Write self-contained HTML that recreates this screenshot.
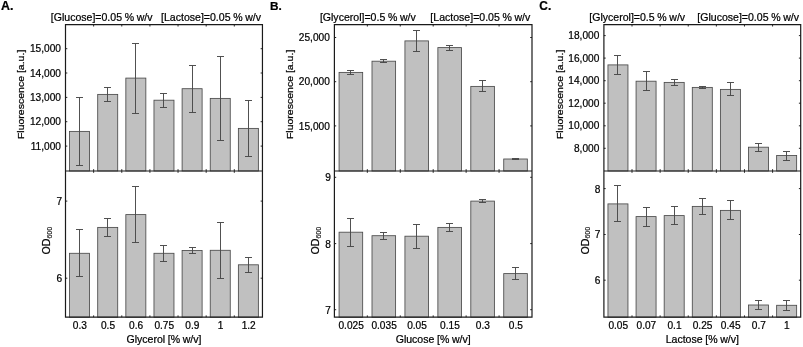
<!DOCTYPE html>
<html><head><meta charset="utf-8"><title>Figure</title>
<style>
html,body{margin:0;padding:0;background:#fff}
svg{display:block}
text{font-family:"Liberation Sans",Arial,Helvetica,sans-serif;fill:#000;stroke:#000;stroke-width:0.22px}
</style></head><body>
<svg width="803" height="347" viewBox="0 0 803 347">
<rect width="803" height="347" fill="#fff"/>
<g>
<text x="1.0" y="9.8" font-size="12.4" font-weight="bold" stroke="none">A.</text>
<text x="50.8" y="20.5" font-size="10.55" word-spacing="-0.3">[Glucose]=0.05 % w/v</text>
<text x="261.0" y="20.5" font-size="10.55" word-spacing="-0.3" text-anchor="end">[Lactose]=0.05 % w/v</text>
<rect x="69.57" y="131.4" width="20" height="39.6" fill="#c0c0c0" stroke="#4a4a4a" stroke-width="0.85"/>
<path d="M79.5 97.5V165.5M76 97.5h7M76 165.5h7" stroke="#484848" stroke-width="0.95" fill="none"/>
<rect x="97.7" y="94.4" width="20" height="76.6" fill="#c0c0c0" stroke="#4a4a4a" stroke-width="0.85"/>
<path d="M107.5 87.5V101.5M104 87.5h7M104 101.5h7" stroke="#484848" stroke-width="0.95" fill="none"/>
<rect x="125.84" y="78.1" width="20" height="92.9" fill="#c0c0c0" stroke="#4a4a4a" stroke-width="0.85"/>
<path d="M135.5 43.5V113.5M132 43.5h7M132 113.5h7" stroke="#484848" stroke-width="0.95" fill="none"/>
<rect x="153.97" y="100.2" width="20" height="70.8" fill="#c0c0c0" stroke="#4a4a4a" stroke-width="0.85"/>
<path d="M163.5 93.5V107.5M160 93.5h7M160 107.5h7" stroke="#484848" stroke-width="0.95" fill="none"/>
<rect x="182.11" y="88.7" width="20" height="82.3" fill="#c0c0c0" stroke="#4a4a4a" stroke-width="0.85"/>
<path d="M192.5 65.5V112.5M189 65.5h7M189 112.5h7" stroke="#484848" stroke-width="0.95" fill="none"/>
<rect x="210.25" y="98.4" width="20" height="72.6" fill="#c0c0c0" stroke="#4a4a4a" stroke-width="0.85"/>
<path d="M220.5 56.5V140.5M217 56.5h7M217 140.5h7" stroke="#484848" stroke-width="0.95" fill="none"/>
<rect x="238.38" y="128.4" width="20" height="42.6" fill="#c0c0c0" stroke="#4a4a4a" stroke-width="0.85"/>
<path d="M248.5 100.5V156.5M245 100.5h7M245 156.5h7" stroke="#484848" stroke-width="0.95" fill="none"/>
<rect x="69.57" y="253.3" width="20" height="63.9" fill="#c0c0c0" stroke="#4a4a4a" stroke-width="0.85"/>
<path d="M79.5 229.5V276.5M76 229.5h7M76 276.5h7" stroke="#484848" stroke-width="0.95" fill="none"/>
<rect x="97.7" y="227.4" width="20" height="89.8" fill="#c0c0c0" stroke="#4a4a4a" stroke-width="0.85"/>
<path d="M107.5 218.5V236.5M104 218.5h7M104 236.5h7" stroke="#484848" stroke-width="0.95" fill="none"/>
<rect x="125.84" y="214.6" width="20" height="102.6" fill="#c0c0c0" stroke="#4a4a4a" stroke-width="0.85"/>
<path d="M135.5 186.5V242.5M132 186.5h7M132 242.5h7" stroke="#484848" stroke-width="0.95" fill="none"/>
<rect x="153.97" y="253.3" width="20" height="63.9" fill="#c0c0c0" stroke="#4a4a4a" stroke-width="0.85"/>
<path d="M163.5 245.5V261.5M160 245.5h7M160 261.5h7" stroke="#484848" stroke-width="0.95" fill="none"/>
<rect x="182.11" y="250.5" width="20" height="66.7" fill="#c0c0c0" stroke="#4a4a4a" stroke-width="0.85"/>
<path d="M192.5 247.5V253.5M189 247.5h7M189 253.5h7" stroke="#484848" stroke-width="0.95" fill="none"/>
<rect x="210.25" y="250.3" width="20" height="66.9" fill="#c0c0c0" stroke="#4a4a4a" stroke-width="0.85"/>
<path d="M220.5 222.5V278.5M217 222.5h7M217 278.5h7" stroke="#484848" stroke-width="0.95" fill="none"/>
<rect x="238.38" y="264.8" width="20" height="52.4" fill="#c0c0c0" stroke="#4a4a4a" stroke-width="0.85"/>
<path d="M248.5 257.5V272.5M245 257.5h7M245 272.5h7" stroke="#484848" stroke-width="0.95" fill="none"/>
<path d="M65.5 24.7H262.45V317.2H65.5ZM65.5 171.0H262.45" stroke="#1a1a1a" stroke-width="1.2" fill="none"/>
<path d="M93.64 24.7v1.8M93.64 169.2v3.6M93.64 317.2v-1.8M121.77 24.7v1.8M121.77 169.2v3.6M121.77 317.2v-1.8M149.91 24.7v1.8M149.91 169.2v3.6M149.91 317.2v-1.8M178.04 24.7v1.8M178.04 169.2v3.6M178.04 317.2v-1.8M206.18 24.7v1.8M206.18 169.2v3.6M206.18 317.2v-1.8M234.31 24.7v1.8M234.31 169.2v3.6M234.31 317.2v-1.8M65.5 48.7h1.8M262.45 48.7h-1.8M65.5 73h1.8M262.45 73h-1.8M65.5 97.4h1.8M262.45 97.4h-1.8M65.5 121.7h1.8M262.45 121.7h-1.8M65.5 146.1h1.8M262.45 146.1h-1.8M65.5 201.1h1.8M262.45 201.1h-1.8M65.5 278.2h1.8M262.45 278.2h-1.8" stroke="#1a1a1a" stroke-width="0.95" fill="none"/>
<text x="60.9" y="52.3" font-size="10.15" text-anchor="end">15,000</text>
<text x="60.9" y="76.6" font-size="10.15" text-anchor="end">14,000</text>
<text x="60.9" y="101" font-size="10.15" text-anchor="end">13,000</text>
<text x="60.9" y="125.3" font-size="10.15" text-anchor="end">12,000</text>
<text x="60.9" y="149.7" font-size="10.15" text-anchor="end">11,000</text>
<text x="62.1" y="205" font-size="10.15" text-anchor="end">7</text>
<text x="62.1" y="282.1" font-size="10.15" text-anchor="end">6</text>
<text x="79.87" y="328.9" font-size="10.15" text-anchor="middle">0.3</text>
<text x="108" y="328.9" font-size="10.15" text-anchor="middle">0.5</text>
<text x="136.14" y="328.9" font-size="10.15" text-anchor="middle">0.6</text>
<text x="164.28" y="328.9" font-size="10.15" text-anchor="middle">0.75</text>
<text x="192.41" y="328.9" font-size="10.15" text-anchor="middle">0.9</text>
<text x="220.55" y="328.9" font-size="10.15" text-anchor="middle">1</text>
<text x="248.68" y="328.9" font-size="10.15" text-anchor="middle">1.2</text>
<text x="163.97" y="343.1" font-size="10.55" word-spacing="-0.3" text-anchor="middle">Glycerol [% w/v]</text>
<text transform="translate(23.8 139.1) rotate(-90) scale(1.085 1)" font-size="9.7">Fluorescence [a.u.]</text>
<text transform="translate(50.4 254.4) rotate(-90) scale(1.04 1)" font-size="10.2">OD<tspan font-size="6.7" dy="1.4" stroke-width="0.1">600</tspan></text>
</g>
<g>
<text x="269.9" y="9.8" font-size="11.8" font-weight="bold" stroke="none">B.</text>
<text x="319.9" y="20.5" font-size="10.55" word-spacing="-0.3">[Glycerol]=0.5 % w/v</text>
<text x="530.3" y="20.5" font-size="10.55" word-spacing="-0.3" text-anchor="end">[Lactose]=0.05 % w/v</text>
<rect x="339.07" y="72.4" width="23.6" height="98.6" fill="#c0c0c0" stroke="#4a4a4a" stroke-width="0.85"/>
<path d="M350.5 70.5V74.5M347 70.5h7M347 74.5h7" stroke="#484848" stroke-width="0.95" fill="none"/>
<rect x="372" y="61.2" width="23.6" height="109.8" fill="#c0c0c0" stroke="#4a4a4a" stroke-width="0.85"/>
<path d="M383.5 59.5V62.5M380 59.5h7M380 62.5h7" stroke="#484848" stroke-width="0.95" fill="none"/>
<rect x="404.93" y="40.9" width="23.6" height="130.1" fill="#c0c0c0" stroke="#4a4a4a" stroke-width="0.85"/>
<path d="M416.5 30.5V51.5M413 30.5h7M413 51.5h7" stroke="#484848" stroke-width="0.95" fill="none"/>
<rect x="437.87" y="47.6" width="23.6" height="123.4" fill="#c0c0c0" stroke="#4a4a4a" stroke-width="0.85"/>
<path d="M449.5 45.5V50.5M446 45.5h7M446 50.5h7" stroke="#484848" stroke-width="0.95" fill="none"/>
<rect x="470.8" y="86.4" width="23.6" height="84.6" fill="#c0c0c0" stroke="#4a4a4a" stroke-width="0.85"/>
<path d="M482.5 80.5V91.5M479 80.5h7M479 91.5h7" stroke="#484848" stroke-width="0.95" fill="none"/>
<rect x="503.73" y="159" width="23.6" height="12" fill="#c0c0c0" stroke="#4a4a4a" stroke-width="0.85"/>
<path d="M515.5 158.5V159.5M512 158.5h7M512 159.5h7" stroke="#484848" stroke-width="0.95" fill="none"/>
<rect x="339.07" y="232.2" width="23.6" height="85" fill="#c0c0c0" stroke="#4a4a4a" stroke-width="0.85"/>
<path d="M350.5 218.5V246.5M347 218.5h7M347 246.5h7" stroke="#484848" stroke-width="0.95" fill="none"/>
<rect x="372" y="235.7" width="23.6" height="81.5" fill="#c0c0c0" stroke="#4a4a4a" stroke-width="0.85"/>
<path d="M383.5 232.5V239.5M380 232.5h7M380 239.5h7" stroke="#484848" stroke-width="0.95" fill="none"/>
<rect x="404.93" y="236.2" width="23.6" height="81" fill="#c0c0c0" stroke="#4a4a4a" stroke-width="0.85"/>
<path d="M416.5 224.5V248.5M413 224.5h7M413 248.5h7" stroke="#484848" stroke-width="0.95" fill="none"/>
<rect x="437.87" y="227.4" width="23.6" height="89.8" fill="#c0c0c0" stroke="#4a4a4a" stroke-width="0.85"/>
<path d="M449.5 223.5V231.5M446 223.5h7M446 231.5h7" stroke="#484848" stroke-width="0.95" fill="none"/>
<rect x="470.8" y="201.1" width="23.6" height="116.1" fill="#c0c0c0" stroke="#4a4a4a" stroke-width="0.85"/>
<path d="M482.5 199.5V202.5M479 199.5h7M479 202.5h7" stroke="#484848" stroke-width="0.95" fill="none"/>
<rect x="503.73" y="273.6" width="23.6" height="43.6" fill="#c0c0c0" stroke="#4a4a4a" stroke-width="0.85"/>
<path d="M515.5 267.5V279.5M512 267.5h7M512 279.5h7" stroke="#484848" stroke-width="0.95" fill="none"/>
<path d="M334.4 24.7H532V317.2H334.4ZM334.4 171.0H532" stroke="#1a1a1a" stroke-width="1.2" fill="none"/>
<path d="M367.33 24.7v1.8M367.33 169.2v3.6M367.33 317.2v-1.8M400.27 24.7v1.8M400.27 169.2v3.6M400.27 317.2v-1.8M433.2 24.7v1.8M433.2 169.2v3.6M433.2 317.2v-1.8M466.13 24.7v1.8M466.13 169.2v3.6M466.13 317.2v-1.8M499.07 24.7v1.8M499.07 169.2v3.6M499.07 317.2v-1.8M334.4 37.5h1.8M532 37.5h-1.8M334.4 81.7h1.8M532 81.7h-1.8M334.4 125.9h1.8M532 125.9h-1.8M334.4 177.3h1.8M532 177.3h-1.8M334.4 243.6h1.8M532 243.6h-1.8M334.4 309.7h1.8M532 309.7h-1.8" stroke="#1a1a1a" stroke-width="0.95" fill="none"/>
<text x="329.8" y="41.1" font-size="10.15" text-anchor="end">25,000</text>
<text x="329.8" y="85.3" font-size="10.15" text-anchor="end">20,000</text>
<text x="329.8" y="129.5" font-size="10.15" text-anchor="end">15,000</text>
<text x="331" y="181.2" font-size="10.15" text-anchor="end">9</text>
<text x="331" y="247.5" font-size="10.15" text-anchor="end">8</text>
<text x="331" y="313.6" font-size="10.15" text-anchor="end">7</text>
<text x="351.17" y="328.9" font-size="10.15" text-anchor="middle">0.025</text>
<text x="384.1" y="328.9" font-size="10.15" text-anchor="middle">0.035</text>
<text x="417.03" y="328.9" font-size="10.15" text-anchor="middle">0.05</text>
<text x="449.97" y="328.9" font-size="10.15" text-anchor="middle">0.15</text>
<text x="482.9" y="328.9" font-size="10.15" text-anchor="middle">0.3</text>
<text x="515.83" y="328.9" font-size="10.15" text-anchor="middle">0.5</text>
<text x="433.2" y="343.1" font-size="10.55" word-spacing="-0.3" text-anchor="middle">Glucose [% w/v]</text>
<text transform="translate(293.0 139.1) rotate(-90) scale(1.085 1)" font-size="9.7">Fluorescence [a.u.]</text>
<text transform="translate(319.4 254.4) rotate(-90) scale(1.04 1)" font-size="10.2">OD<tspan font-size="6.7" dy="1.4" stroke-width="0.1">600</tspan></text>
</g>
<g>
<text x="539.3" y="9.8" font-size="11.9" font-weight="bold" stroke="none">C.</text>
<text x="589.3" y="20.5" font-size="10.55" word-spacing="-0.3">[Glycerol]=0.5 % w/v</text>
<text x="799.0" y="20.5" font-size="10.55" word-spacing="-0.3" text-anchor="end">[Glucose]=0.05 % w/v</text>
<rect x="607.96" y="64.9" width="20" height="106.1" fill="#c0c0c0" stroke="#4a4a4a" stroke-width="0.85"/>
<path d="M617.5 55.5V74.5M614 55.5h7M614 74.5h7" stroke="#484848" stroke-width="0.95" fill="none"/>
<rect x="636.07" y="81.2" width="20" height="89.8" fill="#c0c0c0" stroke="#4a4a4a" stroke-width="0.85"/>
<path d="M646.5 71.5V90.5M643 71.5h7M643 90.5h7" stroke="#484848" stroke-width="0.95" fill="none"/>
<rect x="664.19" y="82.4" width="20" height="88.6" fill="#c0c0c0" stroke="#4a4a4a" stroke-width="0.85"/>
<path d="M674.5 79.5V85.5M671 79.5h7M671 85.5h7" stroke="#484848" stroke-width="0.95" fill="none"/>
<rect x="692.3" y="87.4" width="20" height="83.6" fill="#c0c0c0" stroke="#4a4a4a" stroke-width="0.85"/>
<path d="M702.5 86.5V88.5M699 86.5h7M699 88.5h7" stroke="#484848" stroke-width="0.95" fill="none"/>
<rect x="720.41" y="89.4" width="20" height="81.6" fill="#c0c0c0" stroke="#4a4a4a" stroke-width="0.85"/>
<path d="M730.5 82.5V95.5M727 82.5h7M727 95.5h7" stroke="#484848" stroke-width="0.95" fill="none"/>
<rect x="748.53" y="147.2" width="20" height="23.8" fill="#c0c0c0" stroke="#4a4a4a" stroke-width="0.85"/>
<path d="M758.5 143.5V151.5M755 143.5h7M755 151.5h7" stroke="#484848" stroke-width="0.95" fill="none"/>
<rect x="776.64" y="155.5" width="20" height="15.5" fill="#c0c0c0" stroke="#4a4a4a" stroke-width="0.85"/>
<path d="M786.5 151.5V160.5M783 151.5h7M783 160.5h7" stroke="#484848" stroke-width="0.95" fill="none"/>
<rect x="607.96" y="203.9" width="20" height="113.3" fill="#c0c0c0" stroke="#4a4a4a" stroke-width="0.85"/>
<path d="M617.5 185.5V221.5M614 185.5h7M614 221.5h7" stroke="#484848" stroke-width="0.95" fill="none"/>
<rect x="636.07" y="216.6" width="20" height="100.6" fill="#c0c0c0" stroke="#4a4a4a" stroke-width="0.85"/>
<path d="M646.5 207.5V226.5M643 207.5h7M643 226.5h7" stroke="#484848" stroke-width="0.95" fill="none"/>
<rect x="664.19" y="215.6" width="20" height="101.6" fill="#c0c0c0" stroke="#4a4a4a" stroke-width="0.85"/>
<path d="M674.5 206.5V224.5M671 206.5h7M671 224.5h7" stroke="#484848" stroke-width="0.95" fill="none"/>
<rect x="692.3" y="206.4" width="20" height="110.8" fill="#c0c0c0" stroke="#4a4a4a" stroke-width="0.85"/>
<path d="M702.5 198.5V214.5M699 198.5h7M699 214.5h7" stroke="#484848" stroke-width="0.95" fill="none"/>
<rect x="720.41" y="210.4" width="20" height="106.8" fill="#c0c0c0" stroke="#4a4a4a" stroke-width="0.85"/>
<path d="M730.5 200.5V219.5M727 200.5h7M727 219.5h7" stroke="#484848" stroke-width="0.95" fill="none"/>
<rect x="748.53" y="305" width="20" height="12.2" fill="#c0c0c0" stroke="#4a4a4a" stroke-width="0.85"/>
<path d="M758.5 300.5V309.5M755 300.5h7M755 309.5h7" stroke="#484848" stroke-width="0.95" fill="none"/>
<rect x="776.64" y="305.3" width="20" height="11.9" fill="#c0c0c0" stroke="#4a4a4a" stroke-width="0.85"/>
<path d="M786.5 300.5V310.5M783 300.5h7M783 310.5h7" stroke="#484848" stroke-width="0.95" fill="none"/>
<path d="M603.9 24.7H800.7V317.2H603.9ZM603.9 171.0H800.7" stroke="#1a1a1a" stroke-width="1.2" fill="none"/>
<path d="M632.01 24.7v1.8M632.01 169.2v3.6M632.01 317.2v-1.8M660.13 24.7v1.8M660.13 169.2v3.6M660.13 317.2v-1.8M688.24 24.7v1.8M688.24 169.2v3.6M688.24 317.2v-1.8M716.36 24.7v1.8M716.36 169.2v3.6M716.36 317.2v-1.8M744.47 24.7v1.8M744.47 169.2v3.6M744.47 317.2v-1.8M772.59 24.7v1.8M772.59 169.2v3.6M772.59 317.2v-1.8M603.9 35.6h1.8M800.7 35.6h-1.8M603.9 58.1h1.8M800.7 58.1h-1.8M603.9 80.7h1.8M800.7 80.7h-1.8M603.9 103.2h1.8M800.7 103.2h-1.8M603.9 125.8h1.8M800.7 125.8h-1.8M603.9 148.3h1.8M800.7 148.3h-1.8M603.9 188.6h1.8M800.7 188.6h-1.8M603.9 234.5h1.8M800.7 234.5h-1.8M603.9 280.2h1.8M800.7 280.2h-1.8" stroke="#1a1a1a" stroke-width="0.95" fill="none"/>
<text x="599.3" y="39.2" font-size="10.15" text-anchor="end">18,000</text>
<text x="599.3" y="61.7" font-size="10.15" text-anchor="end">16,000</text>
<text x="599.3" y="84.3" font-size="10.15" text-anchor="end">14,000</text>
<text x="599.3" y="106.8" font-size="10.15" text-anchor="end">12,000</text>
<text x="599.3" y="129.4" font-size="10.15" text-anchor="end">10,000</text>
<text x="599.3" y="151.9" font-size="10.15" text-anchor="end">8,000</text>
<text x="600.5" y="192.5" font-size="10.15" text-anchor="end">8</text>
<text x="600.5" y="238.4" font-size="10.15" text-anchor="end">7</text>
<text x="600.5" y="284.1" font-size="10.15" text-anchor="end">6</text>
<text x="618.26" y="328.9" font-size="10.15" text-anchor="middle">0.05</text>
<text x="646.37" y="328.9" font-size="10.15" text-anchor="middle">0.07</text>
<text x="674.49" y="328.9" font-size="10.15" text-anchor="middle">0.1</text>
<text x="702.6" y="328.9" font-size="10.15" text-anchor="middle">0.25</text>
<text x="730.71" y="328.9" font-size="10.15" text-anchor="middle">0.45</text>
<text x="758.83" y="328.9" font-size="10.15" text-anchor="middle">0.7</text>
<text x="786.94" y="328.9" font-size="10.15" text-anchor="middle">1</text>
<text x="702.3" y="343.1" font-size="10.55" word-spacing="-0.3" text-anchor="middle">Lactose [% w/v]</text>
<text transform="translate(562.6 139.1) rotate(-90) scale(1.085 1)" font-size="9.7">Fluorescence [a.u.]</text>
<text transform="translate(589.0 254.4) rotate(-90) scale(1.04 1)" font-size="10.2">OD<tspan font-size="6.7" dy="1.4" stroke-width="0.1">600</tspan></text>
</g>
</svg>
</body></html>
